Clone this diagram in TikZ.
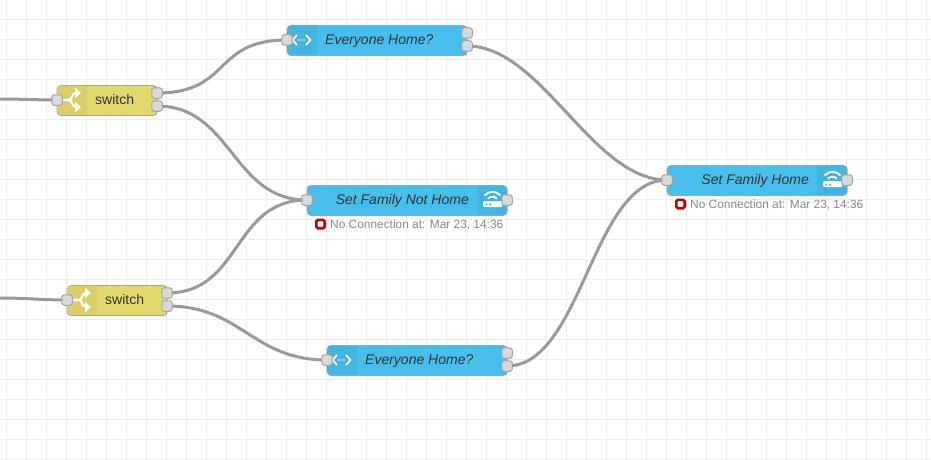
\documentclass[tikz,border=0pt]{standalone}
\usepackage{fontspec}
\setmainfont{Liberation Sans}
\usetikzlibrary{backgrounds,calc}
\definecolor{gridc}{HTML}{EEEEEE}
\definecolor{wirec}{HTML}{999999}
\definecolor{edgec}{HTML}{A4A4A4}
\definecolor{bluen}{HTML}{48BEEC}
\definecolor{blued}{HTML}{43B3DF}
\definecolor{yeln}{HTML}{E2D96E}
\definecolor{yeld}{HTML}{D7CE69}
\definecolor{portc}{HTML}{D9D9D9}
\definecolor{stat}{HTML}{888888}
\definecolor{redst}{HTML}{C00000}
\tikzset{
  x=1pt,y=-1pt,
  nodebox/.style={draw=edgec,line width=1pt,rounded corners=4pt,minimum height=30pt,inner sep=0pt,anchor=north west},
  bluebox/.style={nodebox,fill=bluen},
  yellowbox/.style={nodebox,fill=yeln},
  port/.style={draw=edgec,fill=portc,line width=1pt,rounded corners=2.5pt,minimum size=10.5pt,inner sep=0pt},
  wire/.style={draw=wirec,line width=3pt},
  lab/.style={font=\fontsize{14}{14}\selectfont,text=black!80,inner sep=0pt,anchor=base west},
  ilab/.style={lab,font=\fontsize{14}{14}\selectfont\itshape},
  statlab/.style={font=\fontsize{11.9}{12}\selectfont,text=stat,inner sep=0pt,anchor=base west},
  statbox/.style={draw=redst,fill=white,line width=2.6pt,rounded corners=1.6pt,minimum size=8.4pt,inner sep=0pt},
  iconline/.style={draw=white,line width=1.6pt},
}
\newcommand{\injicon}[2]{%
  \draw[iconline,line width=1.7pt] (#1-4.5,#2-5) -- (#1-9,#2) -- (#1-4.5,#2+5);
  \draw[iconline,line width=1.7pt] (#1+4.5,#2-5) -- (#1+9,#2) -- (#1+4.5,#2+5);
  \fill[white] (#1-2.5,#2) circle (0.9) (#1,#2) circle (0.9) (#1+2.5,#2) circle (0.9);
}
\newcommand{\swicon}[2]{%
  \draw[iconline,line width=2.2pt] (#1-7,#2) -- (#1-1,#2) .. controls (#1+2,#2) and (#1+2,#2-7) .. (#1+6,#2-7);
  \draw[iconline,line width=2.2pt] (#1-1,#2) .. controls (#1+2,#2) and (#1+2,#2+7) .. (#1+6,#2+7);
  \fill[white] (#1+5,#2-12.5) -- (#1+11,#2-7) -- (#1+5,#2-2) -- cycle;
  \fill[white] (#1+5,#2+2) -- (#1+11,#2+7) -- (#1+5,#2+12.5) -- cycle;
}
\newcommand{\wifiicon}[2]{%
  \fill[white,rounded corners=1pt] (#1-9.5,#2+1.5) rectangle (#1+9.5,#2+7.5);
  \fill[blued] (#1-7,#2+4) rectangle ++(1.8,1.8) (#1-3.5,#2+4) rectangle ++(1.8,1.8);
  \draw[iconline,line width=1.8pt] (#1-8,#2-4) .. controls (#1-3,#2-9) and (#1+3,#2-9) .. (#1+8,#2-4);
  \draw[iconline,line width=1.8pt] (#1-4.5,#2-0.8) .. controls (#1-2,#2-3.5) and (#1+2,#2-3.5) .. (#1+4.5,#2-0.8);
}
\begin{document}
\begin{tikzpicture}
\useasboundingbox (0,0) rectangle (931,460);
\begin{scope}[on background layer]
\fill[white] (0,0) rectangle (931,460);
\foreach \i in {0,...,46} \draw[gridc,line width=1pt] (6.5+20*\i,0) -- (6.5+20*\i,460);
\foreach \j in {0,...,22} \draw[gridc,line width=1pt] (0,19.5+20*\j) -- (931,19.5+20*\j);
\end{scope}

% nodes
\node[bluebox,minimum width=180pt] (eh1) at (286.7,25) {};
\node[yellowbox,minimum width=100pt] (sw1) at (56.7,85) {};
\node[bluebox,minimum width=200pt] (nh) at (306.7,185) {};
\node[bluebox,minimum width=180pt] (fh) at (666.7,165) {};
\node[yellowbox,minimum width=100pt] (sw2) at (66.7,285) {};
\node[bluebox,minimum width=180pt] (eh2) at (326.7,345) {};

% icon panels
\fill[blued,rounded corners=4pt] (287.2,25.5) rectangle (317,54.5);
\fill[blued] (310,25.5) rectangle (317,54.5);
\fill[blued,rounded corners=4pt] (327.2,345.5) rectangle (357,374.5);
\fill[blued] (350,345.5) rectangle (357,374.5);
\fill[yeld,rounded corners=4pt] (57.2,85.5) rectangle (87,114.5);
\fill[yeld] (80,85.5) rectangle (87,114.5);
\fill[yeld,rounded corners=4pt] (67.2,285.5) rectangle (97,314.5);
\fill[yeld] (90,285.5) rectangle (97,314.5);
\fill[blued,rounded corners=4pt] (477,185.5) rectangle (506.2,214.5);
\fill[blued] (477,185.5) rectangle (484,214.5);
\fill[blued,rounded corners=4pt] (817,165.5) rectangle (846.2,194.5);
\fill[blued] (817,165.5) rectangle (824,194.5);

\injicon{301.5}{40}
\injicon{341.5}{360}
\swicon{70}{100}
\swicon{80}{300}
\wifiicon{492.5}{199.5}
\wifiicon{832.5}{179.5}

% labels
\node[ilab] (t1) at (325,44.5) {Everyone Home?};
\node[lab] (t2) at (95,104.5) {switch};
\node[ilab,anchor=base east] (t3) at (469,204.5) {Set Family Not Home};
\node[ilab,anchor=base east] (t4) at (809,184.5) {Set Family Home};
\node[lab] (t5) at (105,304.5) {switch};
\node[ilab] (t6) at (365,364.5) {Everyone Home?};

% status
\node[statbox] (s1) at (320.5,224) {};
\node[statlab] (s1t) at (330,228) {No Connection at: Mar 23, 14:36};
\node[statbox] (s2) at (680.5,204) {};
\node[statlab] (s2t) at (690,208) {No Connection at: Mar 23, 14:36};

% ports
\node[port] (eh1i) at (287,40) {};
\node[port] (eh1a) at (467,33) {};
\node[port] (eh1b) at (467,46) {};
\node[port] (sw1i) at (57,100) {};
\node[port] (sw1a) at (157,93) {};
\node[port] (sw1b) at (157,106) {};
\node[port] (nhi) at (307,200) {};
\node[port] (nho) at (507,200) {};
\node[port] (fhi) at (667,180) {};
\node[port] (fho) at (847,180) {};
\node[port] (sw2i) at (67,300) {};
\node[port] (sw2a) at (167,293) {};
\node[port] (sw2b) at (167,306) {};
\node[port] (eh2i) at (327,360) {};
\node[port] (eh2a) at (507,353) {};
\node[port] (eh2b) at (507,366) {};

\coordinate (in1) at (0,99);
\coordinate (in2) at (0,298);

% wires under the nodes
\begin{scope}[on background layer]
\draw[wire] (in1) .. controls ($(in1)+(20,0)$) and ($(sw1i.center)+(-20,0)$) .. (sw1i.center);
\draw[wire] (in2) .. controls ($(in2)+(25,0)$) and ($(sw2i.center)+(-25,0)$) .. (sw2i.center);
\foreach \a/\b in {sw1a/eh1i,sw1b/nhi,sw2a/nhi,sw2b/eh2i,eh1b/fhi,eh2b/fhi}
  \draw[wire] (\a.center) .. controls ($(\a.center)+(75,0)$) and ($(\b.center)+(-75,0)$) .. (\b.center);
\end{scope}
\end{tikzpicture}
\end{document}
